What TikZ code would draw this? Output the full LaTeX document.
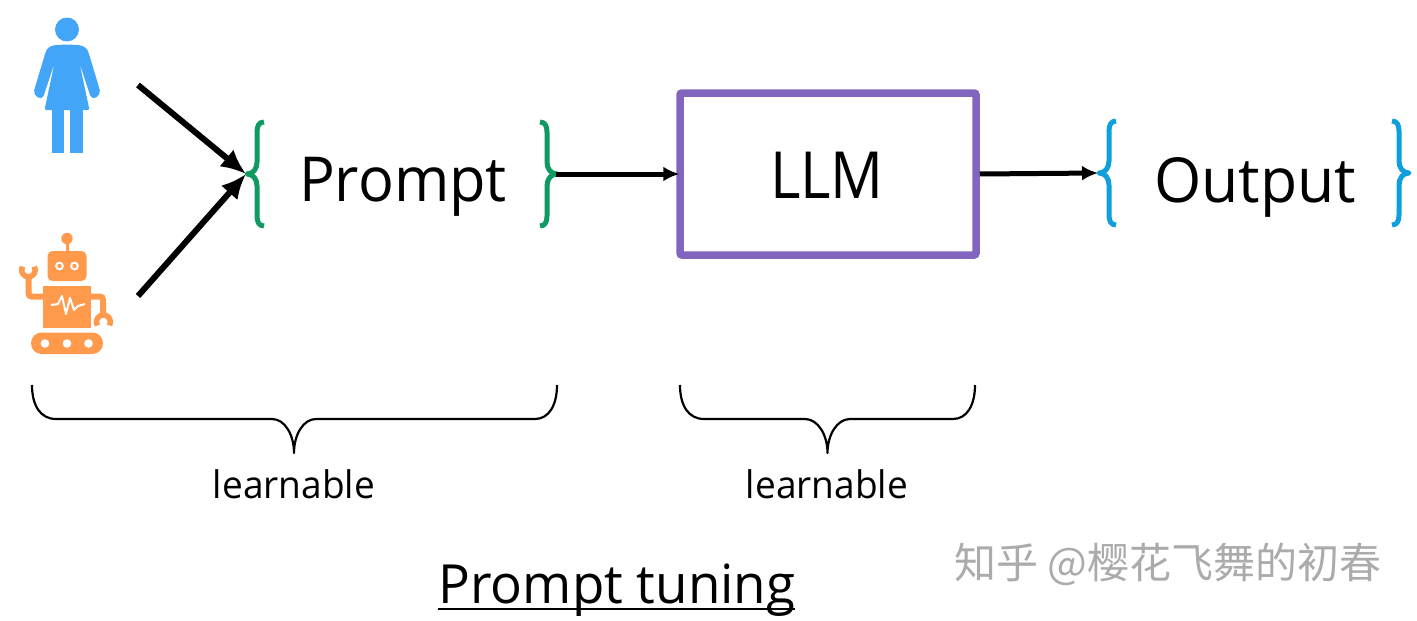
\documentclass[tikz,border=0pt]{standalone}
\usepackage{fontspec}
\setmainfont{Open Sans}
\newfontfamily\cjkfont{Noto Sans CJK SC}
\usetikzlibrary{arrows.meta,positioning}
\definecolor{personblue}{HTML}{42A5F8}
\definecolor{robotorange}{HTML}{FF9A4C}
\definecolor{bracegreen}{HTML}{0E9A60}
\definecolor{bracecyan}{HTML}{0F9FDC}
\definecolor{llmpurple}{HTML}{8165BE}
\tikzset{
    curly/.pic={
        \draw[line width=5pt, line join=round, pic actions] (18,-52) .. controls (13,-52) and (11,-48) .. (11,-42) -- (11,-12)
            .. controls (11,-5) and (7,0) .. (1,0) .. controls (7,0) and (11,5) .. (11,12) -- (11,42)
            .. controls (11,48) and (13,52) .. (18,52);
    }
}
\begin{document}
\begin{tikzpicture}[
        x=1pt, y=-1pt,
        bigtext/.style={font=\fontsize{62}{62}\selectfont, inner sep=0pt, xscale=0.96},
        smalltext/.style={font=\fontsize{38}{38}\selectfont, inner sep=0pt, xscale=0.975},
        line/.style={draw, -{Latex[length=16pt,width=15pt]}, line width=5pt},
        slantline/.style={draw, -{Latex[length=25pt,width=22pt]}, line width=6pt},
        underbrace/.style={draw, line width=2.2pt, line join=round},
        llmbox/.style={draw=llmpurple, line width=7.5pt, rounded corners=2pt, minimum width=296pt, minimum height=162pt, inner sep=0pt},
        robotline/.style={draw=robotorange, line width=6pt}
    ]
    \useasboundingbox (0,0) rectangle (1417,621);

    % Person
    \fill[personblue] (67,29.5) circle (12);
    \fill[personblue, rounded corners=1.5pt] (67,44.5) -- (56,45) .. controls (50,46) and (47,48) .. (45,54) -- (34.5,89)
        .. controls (33,96) and (41,101) .. (44,95) -- (54.5,63) -- (44.5,110) -- (89.5,110) -- (79.5,63) -- (90,95)
        .. controls (93,101) and (101,96) .. (99.5,89) -- (89,54) .. controls (87,48) and (84,46) .. (78,45) -- cycle;
    \fill[personblue] (52,109) rectangle (64,152.5);
    \fill[personblue] (70,109) rectangle (82.5,152.5);

    % Robot
    \fill[robotorange] (67,238.5) circle (5.7);
    \draw[robotline, line width=3pt] (67,240) -- (67,252);
    \fill[robotorange, rounded corners=5pt] (47.5,251) rectangle (86.5,281);
    \foreach \ex in {59.5,74.5} {
        \fill[white] (\ex,266) circle (4.4);
        \fill[robotorange] (\ex,266) circle (2.2);
    }
    \fill[robotorange] (43,285.5) rectangle (91,327.5);
    \draw[white, line width=2pt, line join=round] (51,305) -- (58,304) -- (62,296) -- (66,314) -- (70,298) -- (74,310) -- (78,306) -- (85,304);
    \draw[robotline, rounded corners=3pt] (44,296.5) -- (28.5,296.5) -- (28.5,276);
    \draw[robotline, line width=5.5pt] (22.6,266.6) arc[start angle=210, end angle=-30, radius=6.8];
    \draw[robotline, rounded corners=3pt] (90,296.5) -- (103,296.5) -- (103,315);
    \draw[robotline, line width=5.5pt] (97.4,325.5) arc[start angle=150, end angle=390, radius=7];
    \fill[robotorange, rounded corners=10.5pt] (31,332.5) rectangle (103,354);
    \foreach \wx in {45,67,88.5} {
        \fill[white] (\wx,343.5) circle (4.3);
    }

    % Main row
    \node[bigtext] (prompt) at (403,187) {Prompt};
    \node[llmbox] (llm) at (828,174) {};
    \node[bigtext, font=\fontsize{65}{65}\selectfont, xscale=0.94] (llmtext) at (827,175) {LLM};
    \node[bigtext, xscale=1.02] (output) at (1255,187) {Output};

    \coordinate (promptleft) at (246,174);
    \coordinate (promptright) at (556,174);
    \coordinate (outputleft) at (1098,173);
    \coordinate (personend) at (138,85);
    \coordinate (robotend) at (138,296);

    % Curly brackets
    \pic[draw=bracegreen] at (246,174) {curly};
    \pic[draw=bracegreen, xscale=-1] at (558,174) {curly};
    \pic[draw=bracecyan] at (1098,173) {curly};
    \pic[draw=bracecyan, xscale=-1] at (1410,173) {curly};

    \draw [slantline] (personend) -- (promptleft);
    \draw [slantline] (robotend) -- (promptleft);
    \draw [line, shorten >=-3pt] (promptright) -- (llm.west);
    \draw [line] (llm.east) -- (outputleft);

    % Under braces
    \draw[underbrace] (32,385) .. controls (32,405) and (40,419) .. (56,419) -- (272,419)
        .. controls (285,419) and (294,435) .. (294,453) .. controls (294,435) and (303,419) .. (316,419) -- (535,419)
        .. controls (549,419) and (557,405) .. (557,385);
    \draw[underbrace] (680,385) .. controls (680,405) and (688,419) .. (704,419) -- (805,419)
        .. controls (818,419) and (827.5,435) .. (827.5,453) .. controls (827.5,435) and (837,419) .. (850,419) -- (953,419)
        .. controls (967,419) and (975,405) .. (975,385);
    \node[smalltext] (learnleft) at (294,484) {learnable};
    \node[smalltext] (learnright) at (827,484) {learnable};

    % Title
    \node[font=\fontsize{54}{54}\selectfont, inner sep=0pt, xscale=0.98] (title) at (617,590) {Prompt tuning};
    \draw[line width=2.6pt] (438,609) -- (795,609);

    % Watermark
    \node[font=\cjkfont\fontsize{42}{42}\selectfont, text=black!33, inner sep=0pt] (mark) at (1168,564) {知乎 @樱花飞舞的初春};
\end{tikzpicture}
\end{document}
